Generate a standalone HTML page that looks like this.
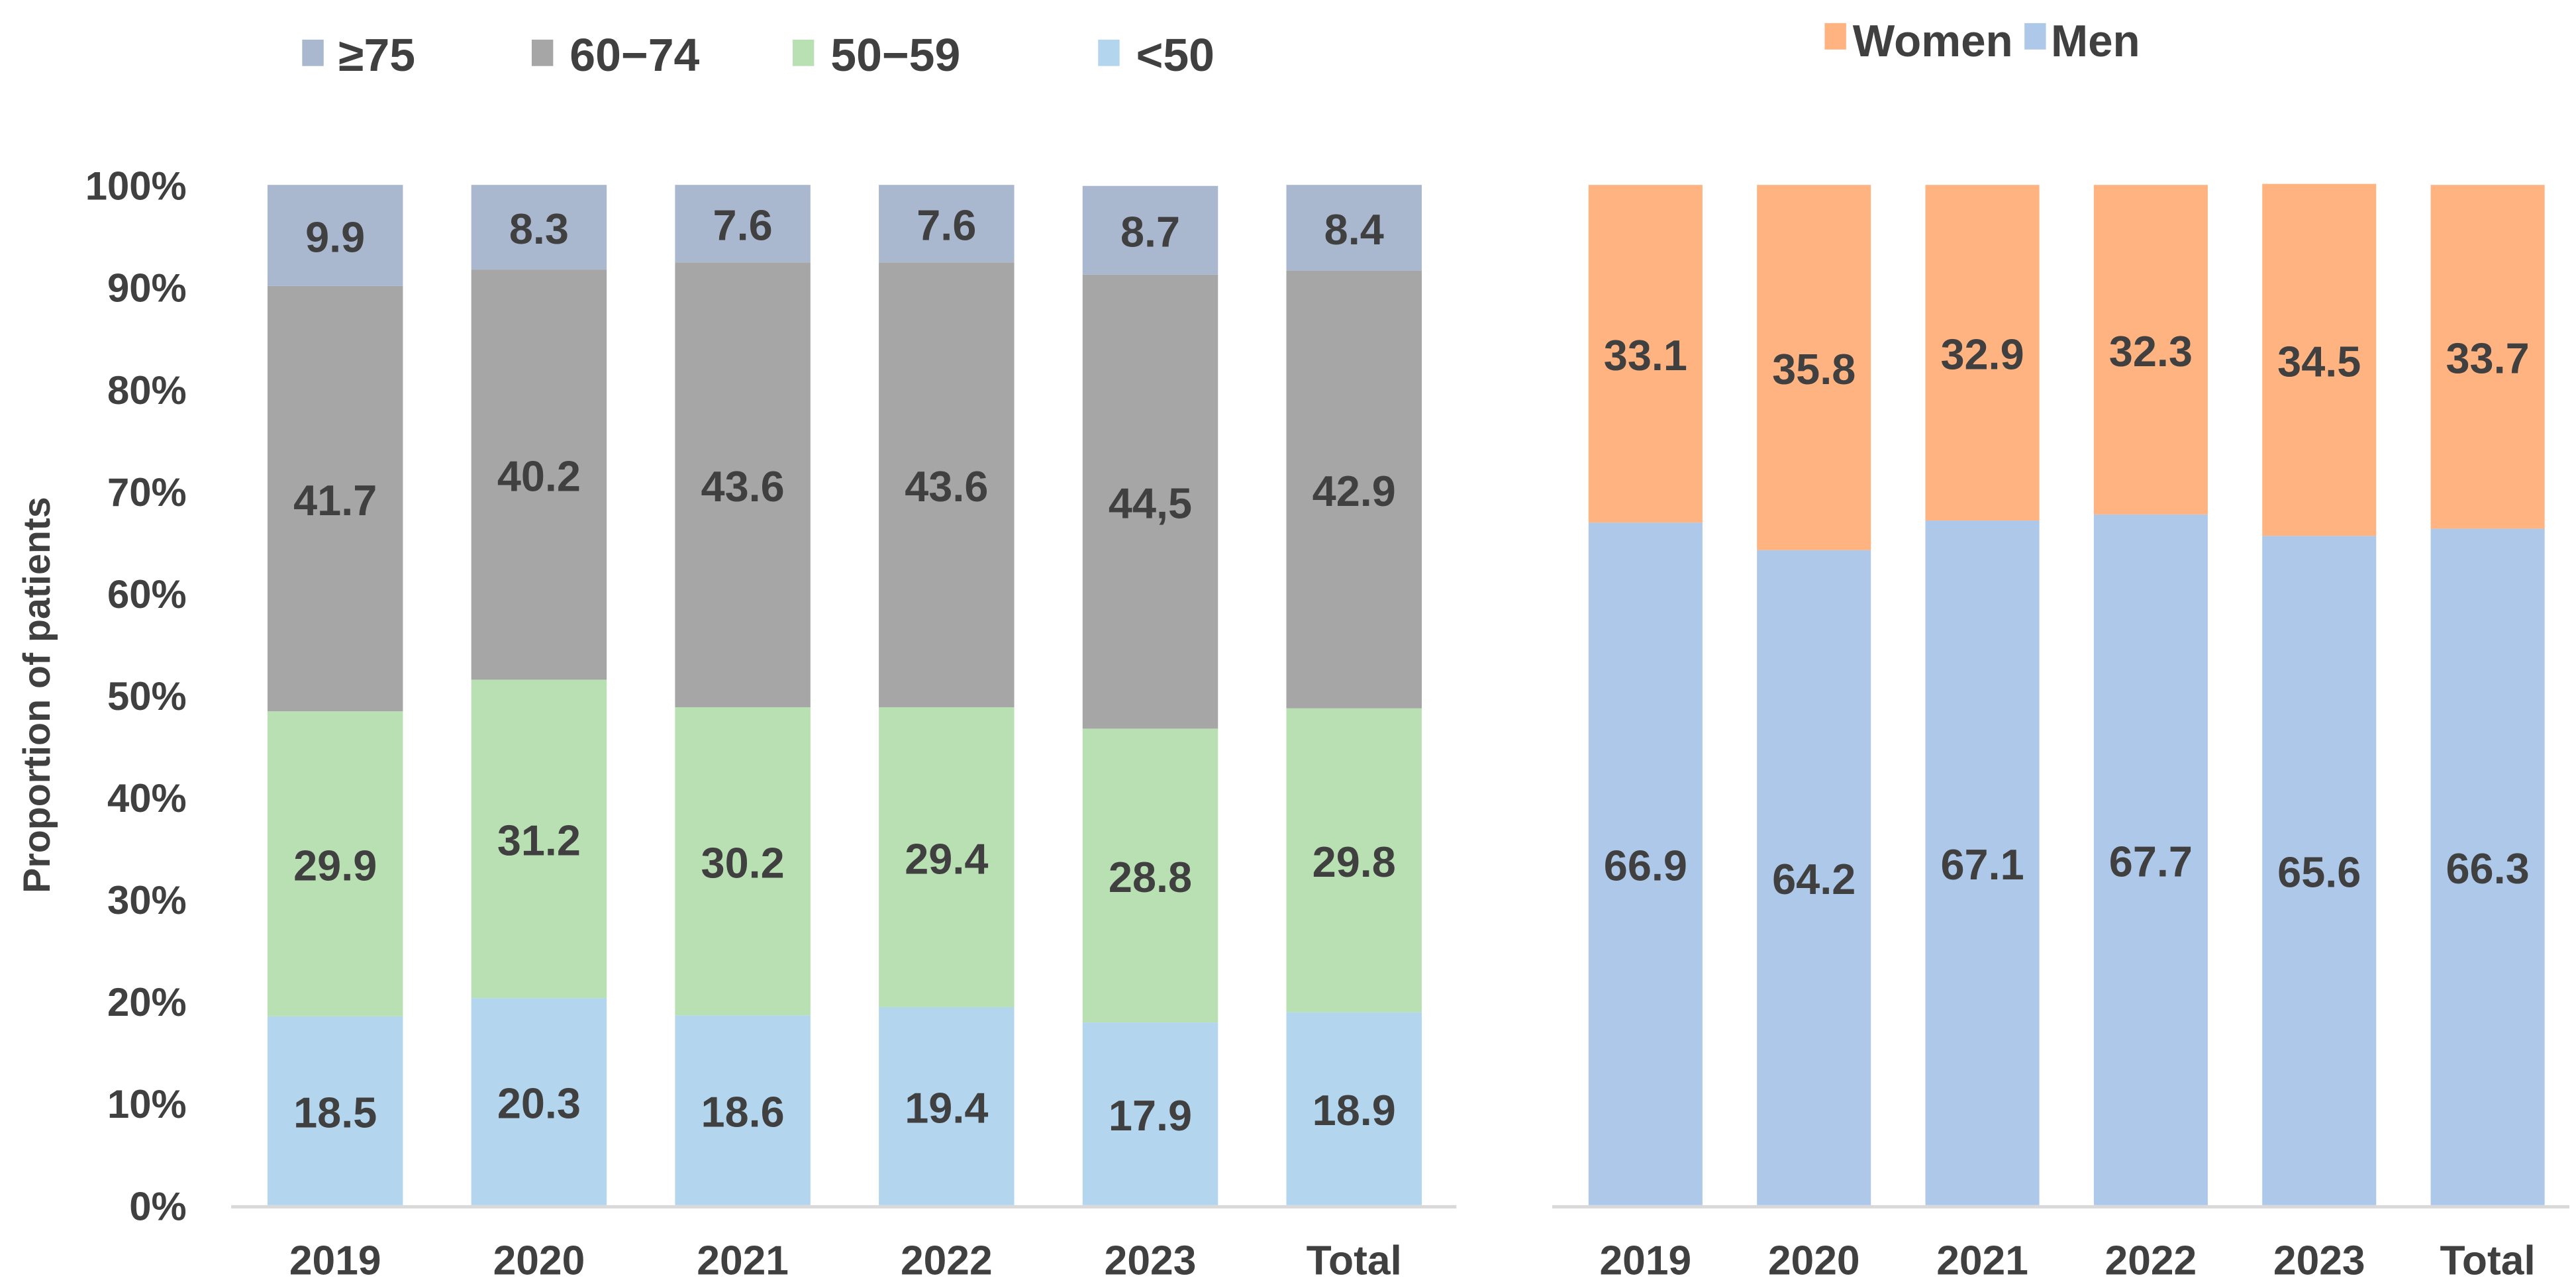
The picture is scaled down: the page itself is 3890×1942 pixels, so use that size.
<!DOCTYPE html>
<html><head><meta charset="utf-8"><style>
html,body{margin:0;padding:0;background:#fff;}
svg{display:block;}
text{font-family:"Liberation Sans",Arial,sans-serif;font-weight:bold;fill:#404040;}
</style></head><body>
<svg id="chart" width="3890" height="1942" viewBox="0 0 1560 779" preserveAspectRatio="none" xmlns="http://www.w3.org/2000/svg">
<g id="left"></g>
<g id="right"></g>
<text transform="translate(30,421) rotate(-90)" text-anchor="middle" font-size="23">Proportion of patients</text>
</svg>
<script>
const categories=["2019","2020","2021","2022","2023","Total"];
const ageSeries=["<50","50\u221259","60\u221274","\u226575"];
const under50=[18.5,20.3,18.6,19.4,17.9,18.9];
const age50_59=[29.9,31.2,30.2,29.4,28.8,29.8];
const age60_74=[41.7,40.2,43.6,43.6,44.5,42.9];
const age60_74Labels=["41.7","40.2","43.6","43.6","44,5","42.9"];
const age75plus=[9.9,8.3,7.6,7.6,8.7,8.4];
const men=[66.9,64.2,67.1,67.7,65.6,66.3];
const women=[33.1,35.8,32.9,32.3,34.5,33.7];
const yTicks=[0,10,20,30,40,50,60,70,80,90,100];

const NS="http://www.w3.org/2000/svg";
function mk(parent,tag,attrs,txt){const e=document.createElementNS(NS,tag);for(const k in attrs)e.setAttribute(k,attrs[k]);if(txt!==undefined)e.textContent=txt;parent.appendChild(e);return e;}
const y0=730,y1=112;
function yScale(v){return y0-(v/100)*(y0-y1);}

// LEFT
const L=document.getElementById('left');
function xL(i){return 162+i*123.4;}
const bwL=82;
yTicks.forEach(t=>{
  const e=mk(L,'text',{x:113,y:yScale(t)+9,'text-anchor':'end','font-size':24},t+'%');
  
  
});
const ageData=[under50,age50_59,age60_74,age75plus];
const ageColors=["#b3d6ee","#b9e0b2","#a6a6a6","#a9b8cf"];
categories.forEach((c,i)=>{
  let cum=0;
  ageData.forEach((arr,s)=>{
    const v=arr[i];const top=yScale(cum+v),bot=yScale(cum);
    const r=mk(L,'rect',{x:xL(i),y:top,width:bwL,height:bot-top,fill:ageColors[s]});
    
    
    const lbl=s===2?age60_74Labels[i]:v.toFixed(1);
    const t=mk(L,'text',{x:xL(i)+bwL/2,y:(top+bot)/2+10,'text-anchor':'middle','font-size':26},lbl);
    
    
    cum+=v;
  });
  const xl=mk(L,'text',{x:xL(i)+bwL/2,y:772,'text-anchor':'middle','font-size':25},c);
  
  
});
const axL=mk(L,'line',{x1:140,x2:882,y1:y0+1,y2:y0+1,stroke:'#d9d9d9','stroke-width':2});


const legL=[[183,205,3],[322,345,2],[480,503,1],[665,688,0]];
legL.forEach(([sx,tx,s])=>{
  const g=mk(L,'g',{});
  
  
  mk(g,'rect',{x:sx,y:24,width:13,height:16,fill:ageColors[s]});
  mk(g,'text',{x:tx,y:43,'font-size':28},ageSeries[s]);
});

// RIGHT
const R=document.getElementById('right');
function xR(i){return 962+i*102;}
const bwR=69;
categories.forEach((c,i)=>{
  const mt=yScale(men[i]);
  const r1=mk(R,'rect',{x:xR(i),y:mt,width:bwR,height:y0-mt,fill:'#adc8e8'});
  
  
  const wt=yScale(men[i]+women[i]);
  const r2=mk(R,'rect',{x:xR(i),y:wt,width:bwR,height:mt-wt,fill:'#ffb381'});
  
  
  const t1=mk(R,'text',{x:xR(i)+bwR/2,y:(mt+y0)/2+10,'text-anchor':'middle','font-size':26},men[i].toFixed(1));
  
  
  const t2=mk(R,'text',{x:xR(i)+bwR/2,y:(wt+mt)/2+10,'text-anchor':'middle','font-size':26},women[i].toFixed(1));
  
  
  const xl=mk(R,'text',{x:xR(i)+bwR/2,y:772,'text-anchor':'middle','font-size':25},c);
  
  
});
const axR=mk(R,'line',{x1:940,x2:1556,y1:y0+1,y2:y0+1,stroke:'#d9d9d9','stroke-width':2});


const g1=mk(R,'g',{});


mk(g1,'rect',{x:1105,y:14,width:13,height:16,fill:'#ffb381'});
mk(g1,'text',{x:1122,y:34,'font-size':27},'Women');
const g2=mk(R,'g',{});


mk(g2,'rect',{x:1226,y:14,width:13,height:16,fill:'#adc8e8'});
mk(g2,'text',{x:1242,y:34,'font-size':27},'Men');
</script>
</body></html>
